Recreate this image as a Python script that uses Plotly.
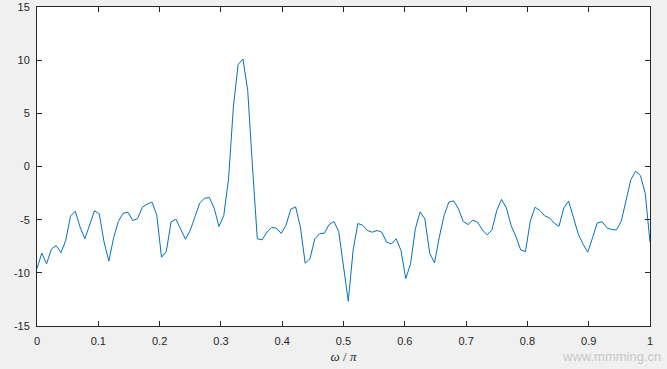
import plotly.graph_objects as go

N = 128
omega = [k / N for k in range(N + 1)]
mag = [
    -9.6, -8.15, -9.15, -7.78, -7.43, -8.1, -6.96, -4.67, -4.2, -5.7,
    -6.8, -5.46, -4.17, -4.45, -7.1, -8.9, -6.7, -5.15, -4.4, -4.3,
    -5.08, -4.9, -3.83, -3.54, -3.35, -4.55, -8.53, -8.0, -5.2, -4.95,
    -5.93, -6.84, -6.0, -4.6, -3.42, -2.98, -2.92, -3.92, -5.64, -4.61,
    -1.16, 5.58, 9.6, 10.1, 7.15, -0.06, -6.8, -6.9, -6.18, -5.74,
    -5.8, -6.3, -5.52, -4.01, -3.8, -5.7, -9.1, -8.68, -6.8, -6.33,
    -6.27, -5.46, -5.17, -6.11, -9.15, -12.67, -7.9, -5.36, -5.52, -6.02,
    -6.18, -6.02, -6.18, -7.12, -7.28, -6.8, -7.9, -10.54, -9.15, -5.86,
    -4.27, -4.95, -8.15, -9.06, -6.65, -4.61, -3.35, -3.23, -3.98, -5.17,
    -5.46, -5.05, -5.24, -5.96, -6.43, -5.96, -4.14, -3.1, -3.89, -5.55,
    -6.59, -7.84, -8.0, -5.14, -3.83, -4.14, -4.64, -4.83, -5.33, -5.62,
    -3.89, -3.26, -4.77, -6.33, -7.28, -8.06, -6.71, -5.3, -5.2, -5.77,
    -5.93, -5.96, -5.14, -3.2, -1.25, -0.44, -0.85, -2.51, -7.12,
]

x_ticks = [i / 10 for i in range(11)]
x_tick_labels = ["0", "0.1", "0.2", "0.3", "0.4", "0.5", "0.6", "0.7", "0.8", "0.9", "1"]
y_ticks = [-15, -10, -5, 0, 5, 10, 15]
y_tick_labels = ["-15", "-10", "-5", "0", "5", "10", "15"]

fig = go.Figure()
fig.add_trace(go.Scatter(x=omega, y=mag, mode="lines",
                         line=dict(color="#0072BD", width=1), hoverinfo="skip"))

axis_common = dict(
    showgrid=False, zeroline=False, showline=True, linecolor="#262626", linewidth=1,
    mirror="ticks", ticks="inside", ticklen=5, tickcolor="#262626", tickwidth=1,
    automargin=False,
    tickfont=dict(family="Liberation Sans, Arial, sans-serif", size=11, color="#262626"),
)
fig.update_xaxes(range=[0, 1], tickmode="array", tickvals=x_ticks, ticktext=x_tick_labels,
                 ticklabelstandoff=5,
                 title=dict(text="<i>ω</i> / <i>π</i>", standoff=5,
                            font=dict(family="Liberation Serif, DejaVu Serif, serif", size=13, color="#262626")),
                 **axis_common)
fig.update_yaxes(range=[-15, 15], tickmode="array", tickvals=y_ticks, ticktext=y_tick_labels,
                 ticklabelstandoff=4,
                 **axis_common)

fig.add_annotation(text="www.mmming.cn", xref="paper", yref="paper", x=1.022, y=-0.066,
                   xanchor="right", yanchor="top", showarrow=False,
                   font=dict(family="Liberation Sans, Arial, sans-serif", size=13, color="#c8c8c8"))

fig.update_layout(
    width=667, height=369, autosize=False,
    margin=dict(l=37, r=17, t=7, b=43),
    paper_bgcolor="#f0f0f0", plot_bgcolor="#ffffff",
    showlegend=False,
)

fig.write_html("out.html")
